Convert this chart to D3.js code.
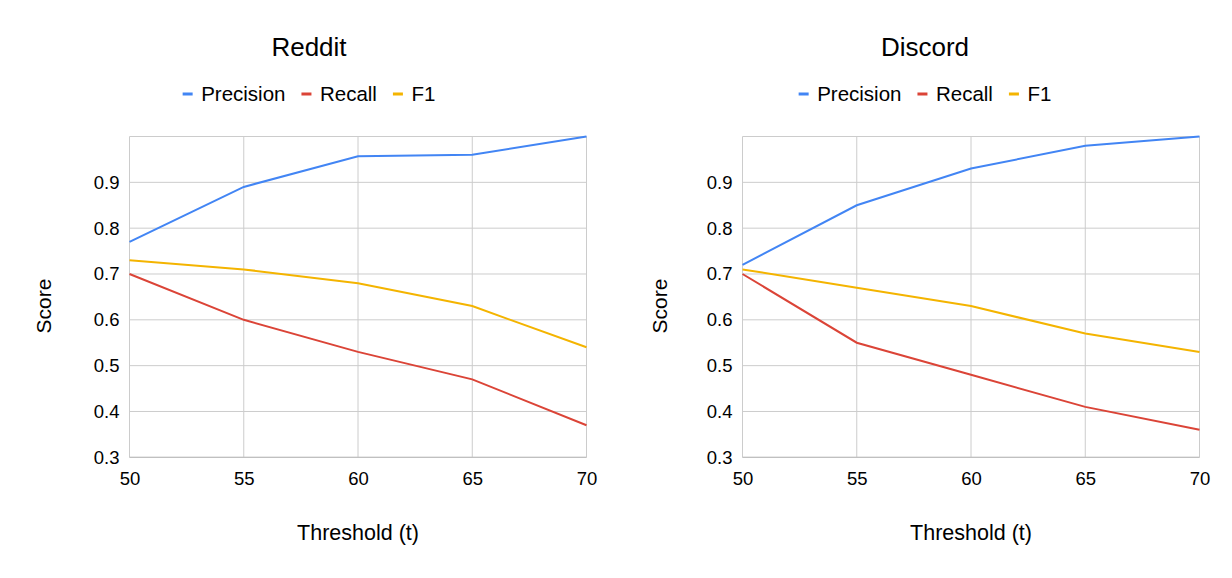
<!DOCTYPE html>
<html><head><meta charset="utf-8">
<script src="https://cdn.jsdelivr.net/npm/d3@7"></script>
<style>body{margin:0;background:#fff;}text{font-family:"Liberation Sans",Arial,sans-serif;fill:#000;}</style>
</head><body><svg id="c" width="1232" height="578"></svg>
<script>
const thresholds = [50, 55, 60, 65, 70];
const seriesNames = ["Precision", "Recall", "F1"];
const seriesColors = ["#4285f4", "#db4437", "#f4b400"];
const yTicks = [0.3, 0.4, 0.5, 0.6, 0.7, 0.8, 0.9];
const redditPrecision = [0.77, 0.89, 0.957, 0.96, 1.0];
const redditRecall = [0.70, 0.60, 0.53, 0.47, 0.37];
const redditF1 = [0.73, 0.71, 0.68, 0.63, 0.54];
const discordPrecision = [0.72, 0.85, 0.93, 0.98, 1.0];
const discordRecall = [0.70, 0.55, 0.48, 0.41, 0.36];
const discordF1 = [0.71, 0.67, 0.63, 0.57, 0.53];

const charts = [
  {title: "Reddit", series: [redditPrecision, redditRecall, redditF1], x0: 0, left: 129.5, right: 586.5},
  {title: "Discord", series: [discordPrecision, discordRecall, discordF1], x0: 616, left: 742.5, right: 1199.5}
];
const svg = d3.select("#c");
const plotTop = 136.5, plotBottom = 457.3;

charts.forEach(ch => {
  const g = svg.append("g");
  const x = d3.scaleLinear().domain([50, 70]).range([ch.left, ch.right]);
  const y = d3.scaleLinear().domain([0.3, 1.0]).range([plotBottom, plotTop]);
  const cx = ch.x0 + 309;
  g.append("text").attr("x", cx).attr("y", 56).attr("text-anchor", "middle")
    .style("font-size", "26px").text(ch.title);
  // legend
  const lg = g.append("g");
  let off = 0;
  seriesNames.forEach((n, i) => {
    const item = lg.append("g").attr("transform", `translate(${off},0)`);
    item.append("rect").attr("x", 0).attr("y", -8.5).attr("width", 10).attr("height", 3).attr("fill", seriesColors[i]);
    const t = item.append("text").attr("x", 18.5).attr("y", 0).style("font-size", "20.5px").text(n);
    const w = 18.5 + t.node().getComputedTextLength();
    off += w + 16;
  });
  const total = off - 16;
  lg.attr("transform", `translate(${cx - total / 2},101)`);

  // grid
  g.append("g").selectAll("line").data(yTicks.concat([1.0])).join("line")
    .attr("x1", ch.left).attr("x2", ch.right).attr("y1", d => y(d)).attr("y2", d => y(d))
    .attr("stroke", "#cccccc").attr("stroke-width", 1);
  g.append("g").selectAll("line").data(thresholds).join("line")
    .attr("x1", d => x(d)).attr("x2", d => x(d)).attr("y1", plotTop).attr("y2", plotBottom)
    .attr("stroke", "#cccccc").attr("stroke-width", 1);
  g.append("line").attr("x1", ch.left).attr("x2", ch.right).attr("y1", plotBottom).attr("y2", plotBottom)
    .attr("stroke", "#bbbbbb");

  // axes
  const ya = d3.axisLeft(y).tickValues(yTicks).tickSize(0).tickPadding(10).tickFormat(d3.format(".1f"));
  const yg = g.append("g").attr("transform", `translate(${ch.left},0)`).call(ya);
  yg.select(".domain").remove();
  yg.selectAll("text").style("font-size", "18.5px").attr("fill", "#000");
  const xa = d3.axisBottom(x).tickValues(thresholds).tickSize(0).tickPadding(14.5);
  const xg = g.append("g").attr("transform", `translate(0,${plotBottom})`).call(xa);
  xg.select(".domain").remove();
  xg.selectAll("text").style("font-size", "18.5px").attr("fill", "#000");

  g.append("text").attr("transform", `translate(${ch.x0 + 51},306) rotate(-90)`)
    .attr("text-anchor", "middle").style("font-size", "21px").text("Score");
  g.append("text").attr("x", (ch.left + ch.right) / 2).attr("y", 540).attr("text-anchor", "middle")
    .style("font-size", "21.5px").text("Threshold (t)");

  const line = d3.line().x((d, i) => x(thresholds[i])).y(d => y(d));
  ch.series.forEach((s, i) => {
    g.append("path").datum(s).attr("d", line).attr("fill", "none")
      .attr("stroke", seriesColors[i]).attr("stroke-width", 2);
  });
});
</script></body></html>
